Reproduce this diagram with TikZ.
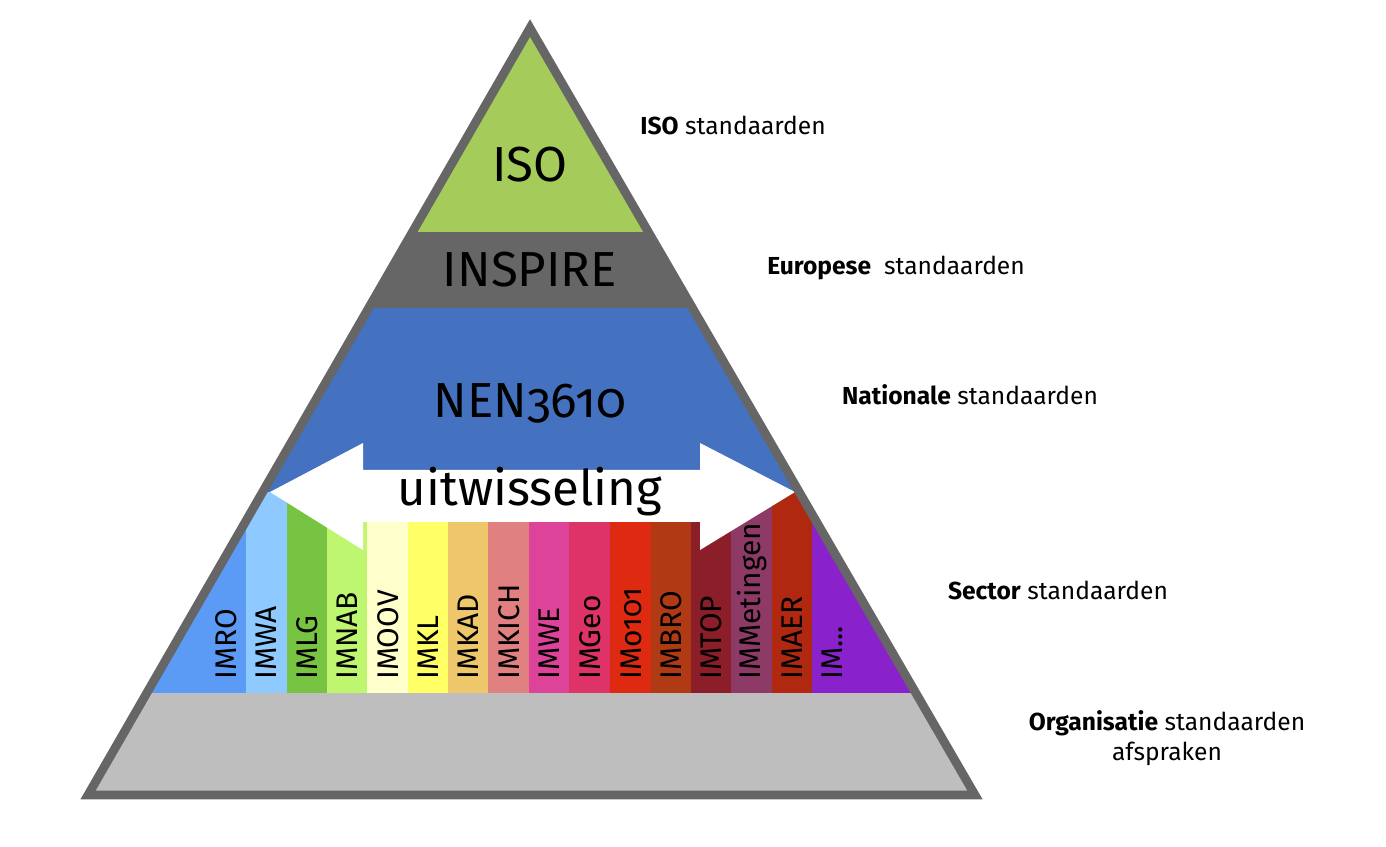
\documentclass[tikz,border=0pt]{standalone}
\usepackage{fontspec}
\setmainfont[Numbers=OldStyle]{Fira Sans}
\usetikzlibrary{calc}
\definecolor{isogreen}{HTML}{A5CC5A}
\definecolor{inspgray}{HTML}{666666}
\definecolor{nenblue}{HTML}{4472C0}
\definecolor{orggray}{HTML}{BEBEBE}
\newcommand{\imrest}{IM...}
\tikzset{%
  band/.style  = {draw=none},
  lvl/.style   = {font=\fontsize{28}{30}\selectfont},
  imlab/.style = {rotate=90, anchor=west, font=\fontsize{17}{19}\selectfont},
  side/.style  = {font=\fontsize{14}{17}\selectfont, align=center}
}
\begin{document}
\begin{tikzpicture}[x=0.02cm, y=-0.02cm]
    \useasboundingbox (0,0) rectangle (1386,847);

    %pyramid bands
    \begin{scope}
    \clip (530,28) -- (975,795) -- (88,795) -- cycle;
    \fill[isogreen] (0,0) rectangle (1386,232);
    \fill[inspgray] (0,232) rectangle (1386,308);
    \fill[nenblue] (0,308) rectangle (1386,500);
    \fill[orggray] (0,693) rectangle (1386,800);
    %sector stripes
    \foreach \xl/\xr/\col in {
        0/246/5B9BF5, 246/287/8EC9FF, 287/327/77C443,
        327/367/BEF76F, 367/408/FFFFCC, 408/448/FFFF66,
        448/488/EDC76A, 488/529/E08080, 529/569/DD4499,
        569/610/DD3366, 610/651/DD2A10, 651/691/B03A14,
        691/731/8B1E28, 731/772/8E3A66, 772/812/B02810,
        812/1386/8A22CC}{
      \definecolor{stripe}{HTML}{\col}
      \fill[stripe] (\xl,492) rectangle (\xr,693);
    }
    \end{scope}
    \foreach \xc/\lab [count=\i] in {
        226/IMRO, 266/IMWA, 307/IMLG, 347/IMNAB, 388/IMOOV, 428/IMKL,
        468/IMKAD, 509/IMKICH, 549/IMWE, 590/IMGeo, 631/IMo101, 671/IMBRO,
        711/IMTOP, 752/IMMetingen, 792/IMAER, 832/\imrest}{
      \node[imlab] (im\i) at (\xc,686) {\lab};
    }

    %exchange arrow
    \fill[white] (270,492) -- (363,443) -- (363,470) -- (700,470) -- (700,443)
        -- (795,492) -- (700,550) -- (700,522) -- (363,522) -- (363,550) -- cycle;

    %outline
    \draw[inspgray, line width=5pt, line join=miter] (530,28) -- (975,795) -- (88,795) -- cycle;

    %levels
    \node[lvl] (iso) at (530,165) {ISO};
    \node[lvl] (inspire) at (530,270) {INSPIRE};
    \node[lvl] (nen) at (530,403) {NEN3610};
    \node[lvl] (uitw) at (530,492) {uitwisseling};

    %side labels
    \node[side] (isolab) at (733,125) {\textbf{ISO} standaarden};
    \node[side] (eulab) at (896,268) {\textbf{Europese}\ \ standaarden};
    \node[side] (natlab) at (970,395) {\textbf{Nationale} standaarden};
    \node[side] (seclab) at (1058,590) {\textbf{Sector} standaarden};
    \node[side] (orglab) at (1167,738) {\textbf{Organisatie} standaarden\\afspraken};
\end{tikzpicture}
\end{document}
